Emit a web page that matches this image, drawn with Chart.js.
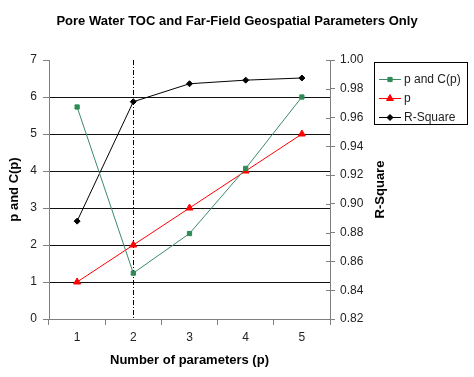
<!DOCTYPE html>
<html>
<head>
<meta charset="utf-8">
<script src="https://cdn.jsdelivr.net/npm/chart.js@4/dist/chart.umd.min.js"></script>
<style>
  html, body { margin: 0; padding: 0; background: #fff; }
  #wrap { width: 474px; height: 377px; }
</style>
</head>
<body>
<div id="wrap"><canvas id="c" width="474" height="377"></canvas></div>
<script>
// data
var labels = ['1', '2', '3', '4', '5'];
var cpValues = [5.73, 1.24, 2.31, 4.07, 6.0];
var pValues = [1, 2, 3, 4, 5];
var rSquare = [0.888, 0.971, 0.9835, 0.986, 0.9875];
var cutoffLabel = '2';
var leftTicks = { min: 0, max: 7, step: 1 };
var rightTicks = { min: 0.82, max: 1.0, step: 0.02 };

var FONT = "'Liberation Sans', Arial, sans-serif";
var AXIS_GREY = '#808080';
var TEXT = '#222';

// dash-dot cutoff line, right axis title, crossing ticks and boxed legend
var extras = {
  id: 'extras',
  beforeDatasetsDraw: function (chart) {
    var ctx = chart.ctx, a = chart.chartArea;
    var x = chart.scales.x.getPixelForValue(labels.indexOf(cutoffLabel));
    ctx.save();
    ctx.strokeStyle = '#000';
    ctx.lineWidth = 1;
    ctx.setLineDash([5, 2, 1, 2]);
    ctx.beginPath();
    ctx.moveTo(Math.round(x) + 0.5, a.top);
    ctx.lineTo(Math.round(x) + 0.5, a.bottom);
    ctx.stroke();
    ctx.restore();
  },
  afterDraw: function (chart) {
    var ctx = chart.ctx, a = chart.chartArea;
    var y2 = chart.scales.y2;
    ctx.save();
    // inner half of the right axis tick marks
    ctx.strokeStyle = AXIS_GREY;
    ctx.lineWidth = 1;
    y2.ticks.forEach(function (t) {
      var y = Math.round(y2.getPixelForValue(t.value)) + 0.5;
      ctx.beginPath();
      ctx.moveTo(a.right - 4, y);
      ctx.lineTo(a.right, y);
      ctx.stroke();
    });
    // right axis title, reading bottom to top
    ctx.fillStyle = '#000';
    ctx.font = 'bold 13px ' + FONT;
    ctx.textAlign = 'center';
    ctx.textBaseline = 'middle';
    ctx.translate(380, (a.top + a.bottom) / 2);
    ctx.rotate(-Math.PI / 2);
    ctx.fillText('R-Square', 0, 0);
    ctx.restore();

    // legend
    ctx.save();
    var bx = 374.5, by = 62.5, bw = 93, bh = 62;
    ctx.strokeStyle = '#000';
    ctx.lineWidth = 1;
    ctx.strokeRect(bx, by, bw, bh);
    ctx.font = '12px ' + FONT;
    ctx.textAlign = 'left';
    ctx.textBaseline = 'middle';
    chart.data.datasets.forEach(function (ds, i) {
      var y = 79 + i * 19;
      ctx.strokeStyle = ds.borderColor;
      ctx.lineWidth = 1;
      ctx.beginPath();
      ctx.moveTo(379, y + 0.5);
      ctx.lineTo(401, y + 0.5);
      ctx.stroke();
      ctx.fillStyle = ds.pointBackgroundColor;
      ctx.strokeStyle = ds.pointBorderColor;
      Chart.helpers.drawPoint(ctx, {
        pointStyle: ds.pointStyle,
        radius: ds.pointRadius,
        rotation: 0,
        borderWidth: 1
      }, 390, y + 0.5);
      ctx.fillStyle = TEXT;
      ctx.fillText(ds.label, 404, y + 1);
    });
    ctx.restore();
  }
};

new Chart(document.getElementById('c').getContext('2d'), {
  type: 'line',
  data: {
    labels: labels,
    datasets: [
      {
        label: 'p and C(p)',
        data: cpValues,
        yAxisID: 'y',
        borderColor: '#3c8a68',
        backgroundColor: '#2e8b57',
        pointBackgroundColor: '#2e8b57',
        pointBorderColor: '#2e8b57',
        pointStyle: 'rect',
        pointRadius: 3,
        borderWidth: 1,
        tension: 0
      },
      {
        label: 'p',
        data: pValues,
        yAxisID: 'y',
        borderColor: '#ff0000',
        backgroundColor: '#ff0000',
        pointBackgroundColor: '#ff0000',
        pointBorderColor: '#ff0000',
        pointStyle: 'triangle',
        pointRadius: 4,
        borderWidth: 1,
        tension: 0
      },
      {
        label: 'R-Square',
        data: rSquare,
        yAxisID: 'y2',
        borderColor: '#000000',
        backgroundColor: '#000000',
        pointBackgroundColor: '#000000',
        pointBorderColor: '#000000',
        pointStyle: 'rectRot',
        pointRadius: 3,
        borderWidth: 1,
        tension: 0
      }
    ]
  },
  options: {
    responsive: false,
    animation: false,
    layout: { padding: { left: 0, right: 0, top: 0, bottom: 0 } },
    plugins: {
      legend: { display: false },
      tooltip: { enabled: false },
      title: {
        display: true,
        text: 'Pore Water TOC and Far-Field Geospatial Parameters Only',
        color: '#000',
        font: { family: FONT, size: 13, weight: 'bold' },
        padding: { top: 14, bottom: 30.4 }
      }
    },
    scales: {
      x: {
        type: 'category',
        offset: true,
        grid: {
          offset: true,
          drawOnChartArea: false,
          drawTicks: true,
          tickLength: 6,
          tickColor: AXIS_GREY
        },
        border: { display: true, color: AXIS_GREY, width: 1 },
        ticks: { color: TEXT, font: { family: FONT, size: 12 }, padding: 5 },
        title: {
          display: true,
          text: 'Number of parameters (p)',
          color: '#000',
          font: { family: FONT, size: 13, weight: 'bold' },
          padding: { top: 0, bottom: 9 }
        },
        afterFit: function (s) { s.height = 58; }
      },
      y: {
        position: 'left',
        min: leftTicks.min,
        max: leftTicks.max,
        grid: {
          color: function (c) {
            var v = c.tick ? c.tick.value : null;
            return (v === leftTicks.max || v === leftTicks.min) ? 'rgba(0,0,0,0)' : '#111';
          },
          tickColor: AXIS_GREY,
          tickLength: 6,
          lineWidth: 1
        },
        border: { display: true, color: AXIS_GREY, width: 1 },
        ticks: {
          stepSize: leftTicks.step,
          color: TEXT,
          font: { family: FONT, size: 12 },
          padding: 6
        },
        title: {
          display: true,
          text: 'p and C(p)',
          color: '#000',
          font: { family: FONT, size: 13, weight: 'bold' },
          padding: { top: 7, bottom: 0 }
        },
        afterFit: function (s) { s.width = 49; }
      },
      y2: {
        position: 'right',
        min: rightTicks.min,
        max: rightTicks.max,
        grid: {
          drawOnChartArea: false,
          tickColor: AXIS_GREY,
          tickLength: 5
        },
        border: { display: true, color: AXIS_GREY, width: 1 },
        ticks: {
          stepSize: rightTicks.step,
          color: TEXT,
          font: { family: FONT, size: 12 },
          padding: 5,
          callback: function (v) { return Number(v).toFixed(2); }
        },
        afterFit: function (s) { s.width = 144; }
      }
    }
  },
  plugins: [extras]
});
</script>
</body>
</html>
